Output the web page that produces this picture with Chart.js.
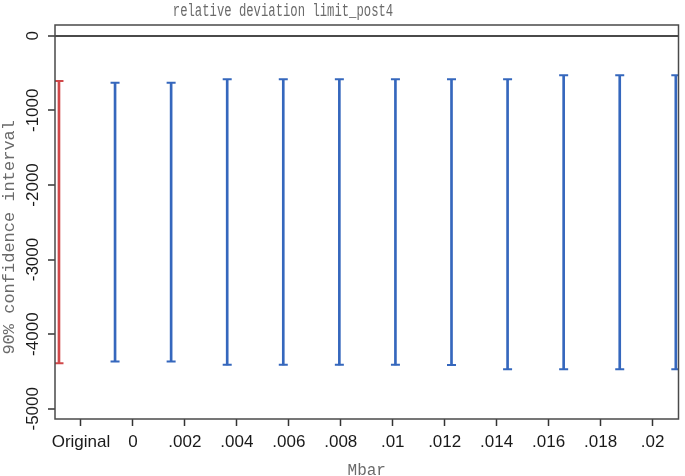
<!DOCTYPE html>
<html>
<head>
<meta charset="utf-8">
<script src="https://cdn.jsdelivr.net/npm/chart.js@4.4.0/dist/chart.umd.min.js"></script>
<style>
    body { margin: 0; background: #fff; }
    #wrap { position: relative; width: 685px; height: 476px; }
    #title {
        position: absolute; left: 83px; top: 2px; width: 400px;
        text-align: center; font: 18px 'Liberation Mono', monospace; line-height: 18px;
        color: #6a6a6a; transform: scaleX(0.68); white-space: nowrap;
    }
</style>
</head>
<body>
<div id="wrap">
    <canvas id="ciChart"></canvas>
    <div id="title">relative deviation limit_post4</div>
</div>
<script>
// Categories (tick labels along the bottom)
const xLabels = ['Original', '0', '.002', '.004', '.006', '.008', '.01', '.012', '.014', '.016', '.018', '.02'];
// 90% confidence interval bounds for each estimate
const ciUpper = [-607, -630, -630, -584, -584, -584, -584, -584, -584, -530, -530, -530];
const ciLower = [-4389, -4367, -4367, -4411, -4411, -4411, -4411, -4415, -4469, -4469, -4469, -4469];
// Y tick labels
const yTicks = [0, -1000, -2000, -3000, -4000, -5000];

const RED = '#d0484a';
const BLUE = '#3567bd';
const colorFor = i => (i === 0 ? RED : BLUE);

// frame around the plot area
const framePlugin = {
    id: 'frame',
    afterDraw(chart) {
        const { ctx, chartArea: a } = chart;
        ctx.save();
        ctx.strokeStyle = '#4a4a4a';
        ctx.lineWidth = 1.5;
        ctx.strokeRect(a.left, a.top, a.right - a.left, a.bottom - a.top);
        ctx.restore();
    }
};

const ctx = document.getElementById('ciChart').getContext('2d');
const ciChart = new Chart(ctx, {
    type: 'bar',
    data: {
        datasets: [{
            // stems
            type: 'bar',
            xAxisID: 'xb',
            data: ciLower.map((lo, i) => ({ x: i, y: [lo, ciUpper[i]] })),
            backgroundColor: ciLower.map((_, i) => colorFor(i)),
            borderWidth: 0,
            barThickness: 2
        }, {
            // upper caps
            type: 'scatter',
            xAxisID: 'xb',
            data: ciUpper.map((v, i) => ({ x: i, y: v })),
            pointStyle: 'line',
            pointRadius: 4.5,
            pointHoverRadius: 4.5,
            pointBorderWidth: 2,
            pointBorderColor: ciUpper.map((_, i) => colorFor(i)),
            showLine: false
        }, {
            // lower caps
            type: 'scatter',
            xAxisID: 'xb',
            data: ciLower.map((v, i) => ({ x: i, y: v })),
            pointStyle: 'line',
            pointRadius: 4.5,
            pointHoverRadius: 4.5,
            pointBorderWidth: 2,
            pointBorderColor: ciLower.map((_, i) => colorFor(i)),
            showLine: false
        }]
    },
    options: {
        responsive: true,
        maintainAspectRatio: false,
        animation: false,
        layout: {
            padding: { top: 25, right: 3, left: 0, bottom: 0 }
        },
        plugins: {
            legend: { display: false },
            tooltip: { enabled: false }
        },
        scales: {
            x: {
                type: 'category',
                labels: xLabels,
                offset: true,
                afterFit: s => { s.height = 57; },
                grid: {
                    offset: false,
                    drawOnChartArea: false,
                    tickLength: 7,
                    tickColor: '#333',
                    tickWidth: 1.5
                },
                border: { display: false },
                ticks: {
                    autoSkip: false,
                    maxRotation: 0,
                    padding: 6,
                    color: '#1a1a1a',
                    font: { family: "'Liberation Sans', Arial, sans-serif", size: 17 }
                },
                title: {
                    display: true,
                    text: 'Mbar',
                    color: '#6a6a6a',
                    padding: { top: 0, bottom: -4 },
                    font: { family: "'Liberation Mono', monospace", size: 16 }
                }
            },
            xb: {
                type: 'linear',
                display: false,
                offset: false,
                min: -0.0709,
                max: 11.048
            },
            y: {
                type: 'linear',
                min: -5137,
                max: 143,
                afterFit: s => { s.width = 55; },
                afterBuildTicks: axis => {
                    axis.ticks = yTicks.map(v => ({ value: v }));
                },
                grid: {
                    color: c => (c.tick && c.tick.value === 0 ? '#4a4a4a' : 'rgba(0,0,0,0)'),
                    lineWidth: 2,
                    tickLength: 7,
                    tickColor: '#333',
                    tickWidth: 1.5
                },
                border: { display: false },
                ticks: {
                    minRotation: 90,
                    maxRotation: 90,
                    crossAlign: 'center',
                    padding: -7,
                    color: '#1a1a1a',
                    font: { family: "'Liberation Sans', Arial, sans-serif", size: 17 },
                    callback: v => String(v)
                },
                title: {
                    display: true,
                    text: '90% confidence interval   ',
                    color: '#6a6a6a',
                    padding: { top: -1, bottom: 0 },
                    font: { family: "'Liberation Mono', monospace", size: 17 }
                }
            }
        }
    },
    plugins: [framePlugin]
});
</script>
</body>
</html>
